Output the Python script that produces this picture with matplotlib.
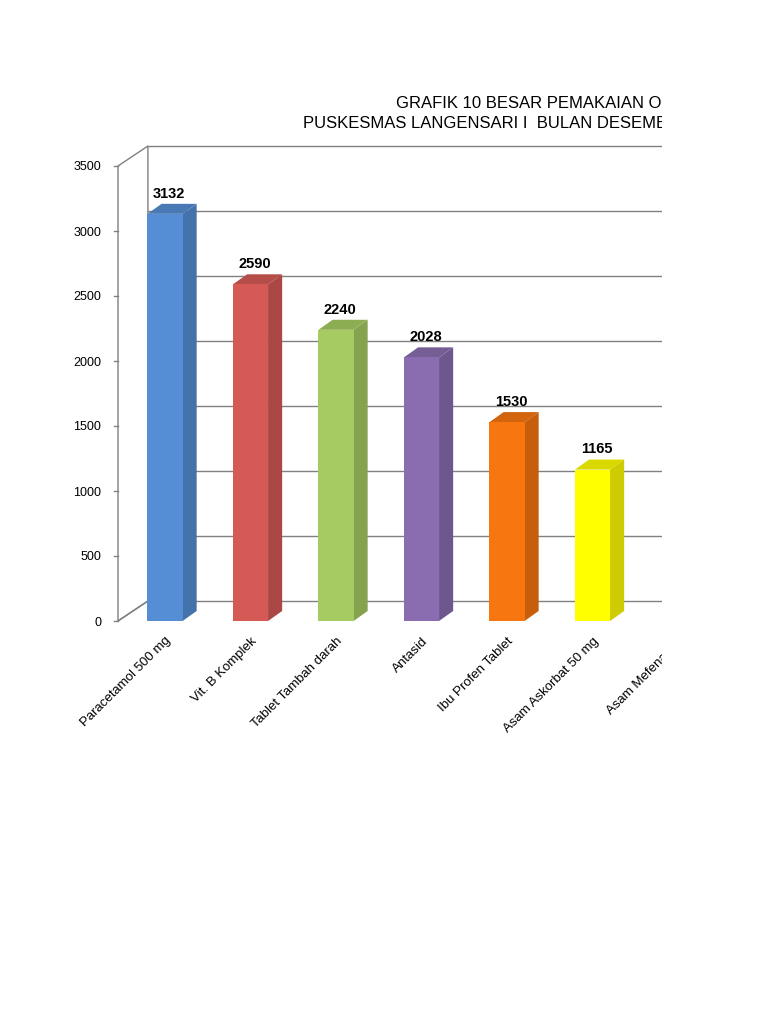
import matplotlib
matplotlib.use("Agg")
import matplotlib.pyplot as plt
from matplotlib.patches import Polygon, Rectangle
import matplotlib.colors as mcolors

plt.rcParams['font.family'] = ['Liberation Sans', 'DejaVu Sans']

obat = ['Paracetamol 500 mg', 'Vit. B Komplek', 'Tablet Tambah darah', 'Antasid',
        'Ibu Profen Tablet', 'Asam Askorbat 50 mg', 'Asam Mefenamat']
jumlah = [3132, 2590, 2240, 2028, 1530, 1165]
warna = ['#558ED5', '#D55A56', '#A6CB62', '#8A6DB0', '#F7760F', '#FFFF00']
y_ticks = [0, 500, 1000, 1500, 2000, 2500, 3000, 3500]


def shade(c, f):
    r, g, b = mcolors.to_rgb(c)
    return (r * f, g * f, b * f)


def plot():
    fig = plt.figure(figsize=(7.68, 10.24), dpi=100)
    x0, x1 = -0.55, 6.5
    step = 85.5  # px per category
    ax = fig.add_axes([118 / 768, (1024 - 621) / 1024, (x1 - x0) * step / 768, 455 / 1024])
    ax.set_xlim(x0, x1)
    ax.set_ylim(0, 3500)
    for s in ax.spines.values():
        s.set_visible(False)

    wdx, wdy = 0.35, 154
    # walls
    ax.add_patch(Polygon([(x0, 0), (x0, 3500), (x0 + wdx, 3500 + wdy), (x0 + wdx, wdy)],
                         closed=True, fill=False, ec='#808080', lw=1, clip_on=False))
    for t in y_ticks:
        ax.plot([x0 + wdx, x1], [t + wdy, t + wdy], color='#808080', lw=1, clip_on=False)
        ax.plot([x0 - 0.05, x0], [t, t], color='#808080', lw=1, clip_on=False)
    ax.plot([x0, x0 + wdx], [0, wdy], color='#808080', lw=1, clip_on=False)

    bdx, bdy, hw = 0.165, 77, 0.205
    for i, (v, c) in enumerate(zip(jumlah, warna)):
        l, r = i - hw, i + hw
        ax.add_patch(Polygon([(r, 0), (r + bdx, bdy), (r + bdx, v + bdy), (r, v)],
                             closed=True, fc=shade(c, 0.8), ec='none', zorder=3, clip_on=False))
        ax.add_patch(Polygon([(l, v), (l + bdx, v + bdy), (r + bdx, v + bdy), (r, v)],
                             closed=True, fc=shade(c, 0.85), ec='none', zorder=3, clip_on=False))
        ax.add_patch(Rectangle((l, 0), 2 * hw, v, fc=c, ec='none', zorder=4))
        ax.text(i + 0.05, v + bdy + 25, str(v), ha='center', va='bottom', fontsize=10.5,
                fontweight='bold', zorder=5)

    ax.set_yticks(y_ticks)
    ax.set_yticklabels([str(t) for t in y_ticks], fontsize=9)
    ax.tick_params(axis='y', length=0, pad=12)
    ax.set_xticks(range(len(obat)))
    ax.set_xticklabels(obat, rotation=45, ha='right', rotation_mode='anchor', fontsize=9.5)
    ax.tick_params(axis='x', length=0, pad=10)

    fig.text(396 / 768, 1 - 103 / 1024, 'GRAFIK 10 BESAR PEMAKAIAN OBAT',
             ha='left', va='center', fontsize=12)
    fig.text(303 / 768, 1 - 124 / 1024, 'PUSKESMAS LANGENSARI I  BULAN DESEMBER',
             ha='left', va='center', fontsize=12)

    # the reference is cut off on the right
    fig.add_artist(Rectangle((662 / 768, 0), 1, 1, transform=fig.transFigure,
                             fc='white', ec='none', zorder=100))
    fig.savefig('out.png', dpi=100)


if __name__ == '__main__':
    plot()
